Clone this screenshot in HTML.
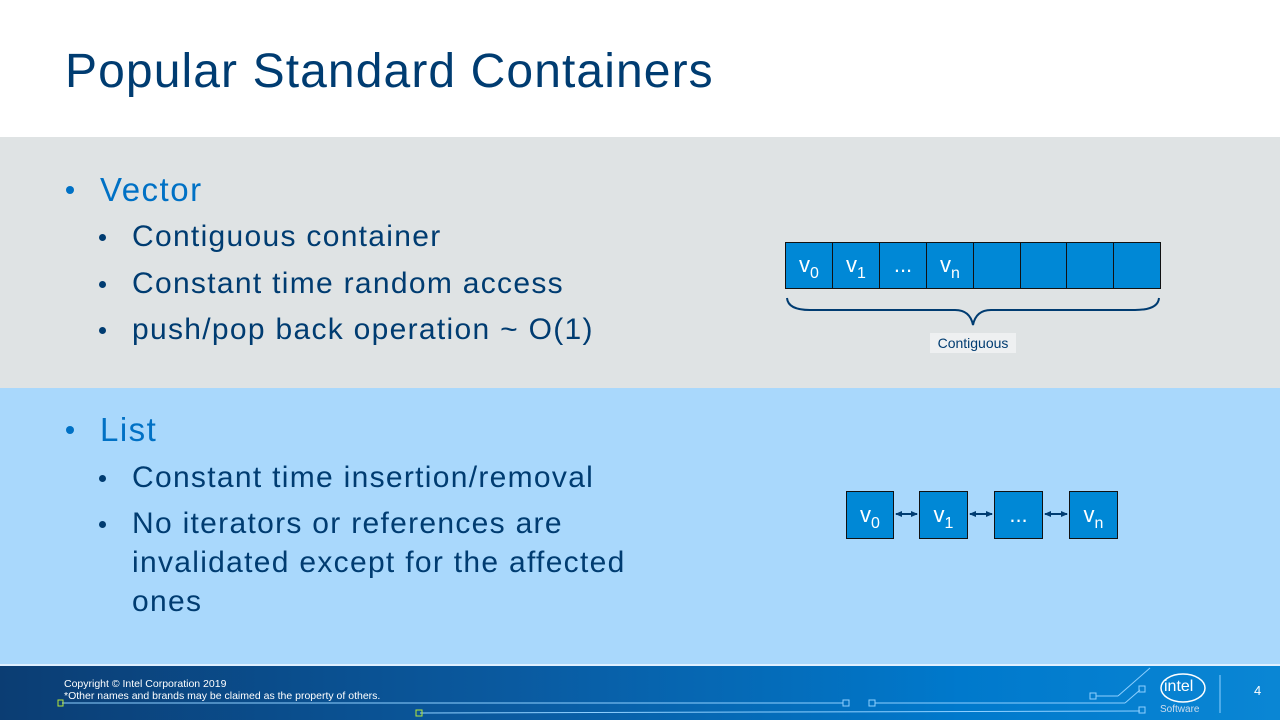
<!DOCTYPE html>
<html><head><meta charset="utf-8"><style>
*{margin:0;padding:0;box-sizing:border-box}
body{width:1280px;height:720px;position:relative;overflow:hidden;background:#fff;font-family:"Liberation Sans",sans-serif}
.a{position:absolute;white-space:nowrap}
.t{left:65px;top:44px;font-size:48px;letter-spacing:1.1px;color:#003c71;line-height:56px}
.b1{font-size:33px;letter-spacing:1.5px;color:#0071c5;line-height:40px}
.b2{font-size:30px;letter-spacing:1.3px;color:#003c71;line-height:38px}
.dot{position:absolute;border-radius:50%;width:8px;height:8px}
.cell{position:absolute;background:#0088d6;border:1.5px solid #111;color:#fff;font-size:22px;text-align:center}
.cell sub{font-size:16px;vertical-align:-6px}
</style></head><body>
<div class="a t">Popular Standard Containers</div>
<div class="a" style="left:0;top:137px;width:1280px;height:251px;background:#dfe3e4"></div>
<div class="a" style="left:0;top:388px;width:1280px;height:276px;background:#a9d8fc"></div>
<div class="a" style="left:0;top:664px;width:1280px;height:56px;background:linear-gradient(90deg,#0b3d73 0%,#0a5aa0 40%,#0079cc 75%,#0a86d4 100%);border-top:2px solid #e0f0ff"></div>

<div class="dot" style="left:66px;top:186px;background:#0071c5"></div>
<div class="a b1" style="left:100px;top:170px">Vector</div>
<div class="dot" style="left:99px;top:234px;width:7px;height:7px;background:#003c71"></div>
<div class="a b2" style="left:132px;top:218px">Contiguous container</div>
<div class="dot" style="left:99px;top:281px;width:7px;height:7px;background:#003c71"></div>
<div class="a b2" style="left:132px;top:265px">Constant time random access</div>
<div class="dot" style="left:99px;top:327px;width:7px;height:7px;background:#003c71"></div>
<div class="a b2" style="left:132px;top:311px">push/pop back operation ~ O(1)</div>

<div class="dot" style="left:66px;top:426px;background:#0071c5"></div>
<div class="a b1" style="left:100px;top:410px">List</div>
<div class="dot" style="left:99px;top:475px;width:7px;height:7px;background:#003c71"></div>
<div class="a b2" style="left:132px;top:459px">Constant time insertion/removal</div>
<div class="dot" style="left:99px;top:521px;width:7px;height:7px;background:#003c71"></div>
<div class="a b2" style="left:132px;top:505px">No iterators or references are</div>
<div class="a b2" style="left:132px;top:544px">invalidated except for the affected</div>
<div class="a b2" style="left:132px;top:583px">ones</div>

<div class="cell" style="left:785px;top:242px;width:48px;height:47px;line-height:44px">v<sub>0</sub></div>
<div class="cell" style="left:832px;top:242px;width:48px;height:47px;line-height:44px">v<sub>1</sub></div>
<div class="cell" style="left:879px;top:242px;width:48px;height:47px;line-height:44px">...</div>
<div class="cell" style="left:926px;top:242px;width:48px;height:47px;line-height:44px">v<sub>n</sub></div>
<div class="cell" style="left:973px;top:242px;width:48px;height:47px"></div>
<div class="cell" style="left:1020px;top:242px;width:48px;height:47px"></div>
<div class="cell" style="left:1066px;top:242px;width:48px;height:47px"></div>
<div class="cell" style="left:1113px;top:242px;width:48px;height:47px"></div>
<svg class="a" style="left:780px;top:290px" width="390" height="40"><path d="M7 8 Q8 20 30 20 L175 20 Q190 20 193 35 Q196 20 211 20 L355 20 Q378 20 379 8" fill="none" stroke="#003c71" stroke-width="2"/></svg>
<div class="a" style="left:930px;top:333px;width:86px;height:20px;background:#eef0f1;color:#003c71;font-size:14px;line-height:20px;text-align:center">Contiguous</div>

<div class="cell" style="left:846px;top:491px;width:48px;height:48px;line-height:46px">v<sub>0</sub></div>
<div class="cell" style="left:919px;top:491px;width:49px;height:48px;line-height:46px">v<sub>1</sub></div>
<div class="cell" style="left:994px;top:491px;width:49px;height:48px;line-height:46px">...</div>
<div class="cell" style="left:1069px;top:491px;width:49px;height:48px;line-height:46px">v<sub>n</sub></div>
<svg class="a" style="left:0;top:0" width="1280" height="720">
<defs><marker id="m" markerUnits="userSpaceOnUse" markerWidth="7" markerHeight="7" refX="6" refY="3.5" orient="auto-start-reverse"><path d="M0 0.5L7 3.5L0 6.5z" fill="#003c71"/></marker></defs>
<line x1="896" y1="514" x2="917" y2="514" stroke="#003c71" stroke-width="2" marker-start="url(#m)" marker-end="url(#m)"/>
<line x1="970" y1="514" x2="992" y2="514" stroke="#003c71" stroke-width="2" marker-start="url(#m)" marker-end="url(#m)"/>
<line x1="1045" y1="514" x2="1067" y2="514" stroke="#003c71" stroke-width="2" marker-start="url(#m)" marker-end="url(#m)"/>
<g stroke="#8fd0ff" stroke-width="1" fill="none">
<line x1="62" y1="703" x2="843" y2="703"/>
<line x1="875" y1="703" x2="1125" y2="703"/><line x1="1125" y1="703" x2="1140" y2="690"/>
<line x1="1096" y1="696" x2="1118" y2="696"/><line x1="1118" y1="696" x2="1150" y2="668"/>
<line x1="420" y1="713" x2="1140" y2="711"/>
<rect x="843" y="700" width="6" height="6"/><rect x="869" y="700" width="6" height="6"/>
<rect x="1090" y="693" width="6" height="6"/><rect x="1139" y="686" width="6" height="6"/>
<rect x="1139" y="707" width="6" height="6"/>
<line x1="1220" y1="675" x2="1220" y2="713"/>
</g>
<rect x="58" y="700" width="5" height="6" fill="none" stroke="#b6e63a"/>
<rect x="416" y="710" width="6" height="6" fill="none" stroke="#b6e63a"/>
<ellipse cx="1183" cy="688" rx="22" ry="14" fill="none" stroke="#fff" stroke-width="1.5"/>
</svg>
<div class="a" style="left:64px;top:678px;color:#fff;font-size:10.5px;line-height:12px">Copyright © Intel Corporation 2019<br>*Other names and brands may be claimed as the property of others.</div>
<div class="a" style="left:1164px;top:678px;color:#fff;font-size:16px;line-height:18px">intel</div>
<div class="a" style="left:1160px;top:704px;color:#cde;font-size:10px;line-height:12px">Software</div>
<div class="a" style="left:1254px;top:684px;color:#fff;font-size:13px;line-height:14px">4</div>
</body></html>
